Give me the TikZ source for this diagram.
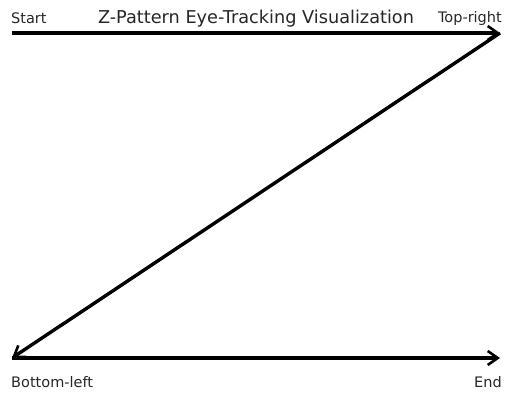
\documentclass[tikz,border=0pt]{standalone}
\usepackage{fontspec}
\setmainfont{DejaVu Sans}
\usetikzlibrary{arrows.meta,positioning}

\begin{document}
\begin{tikzpicture}[
    x=1pt, y=-1pt,
    path/.style = {line width=3.4pt, -{Straight Barb[length=10pt,width=14pt,line width=2.6pt]}},
    label/.style = {font=\fontsize{14.5}{15}\selectfont, text=black!85, inner sep=0pt},
    title/.style = {font=\fontsize{17.7}{19}\selectfont, text=black!85, inner sep=0pt}
]
    \useasboundingbox (0,0) rectangle (512,400);
    % Corner points of the Z
    \coordinate (start) at (12,33);
    \coordinate (topright) at (500,33);
    \coordinate (bottomleft) at (12,358);
    \coordinate (end) at (500,358);
    % Texts
    \node[title] (heading) at (256,19) {Z-Pattern Eye-Tracking Visualization};
    \node[label, anchor=west] (startlabel) at (11,18) {Start};
    \node[label, anchor=east] (toprightlabel) at (502,18) {Top-right};
    \node[label, anchor=west] (bottomleftlabel) at (11,382) {Bottom-left};
    \node[label, anchor=east] (endlabel) at (502,382) {End};
    % Arrows
    \draw[path] (start) -- (topright);
    \draw[path] (topright) -- (bottomleft);
    \draw[path] (bottomleft) -- (end);
\end{tikzpicture}
\end{document}
